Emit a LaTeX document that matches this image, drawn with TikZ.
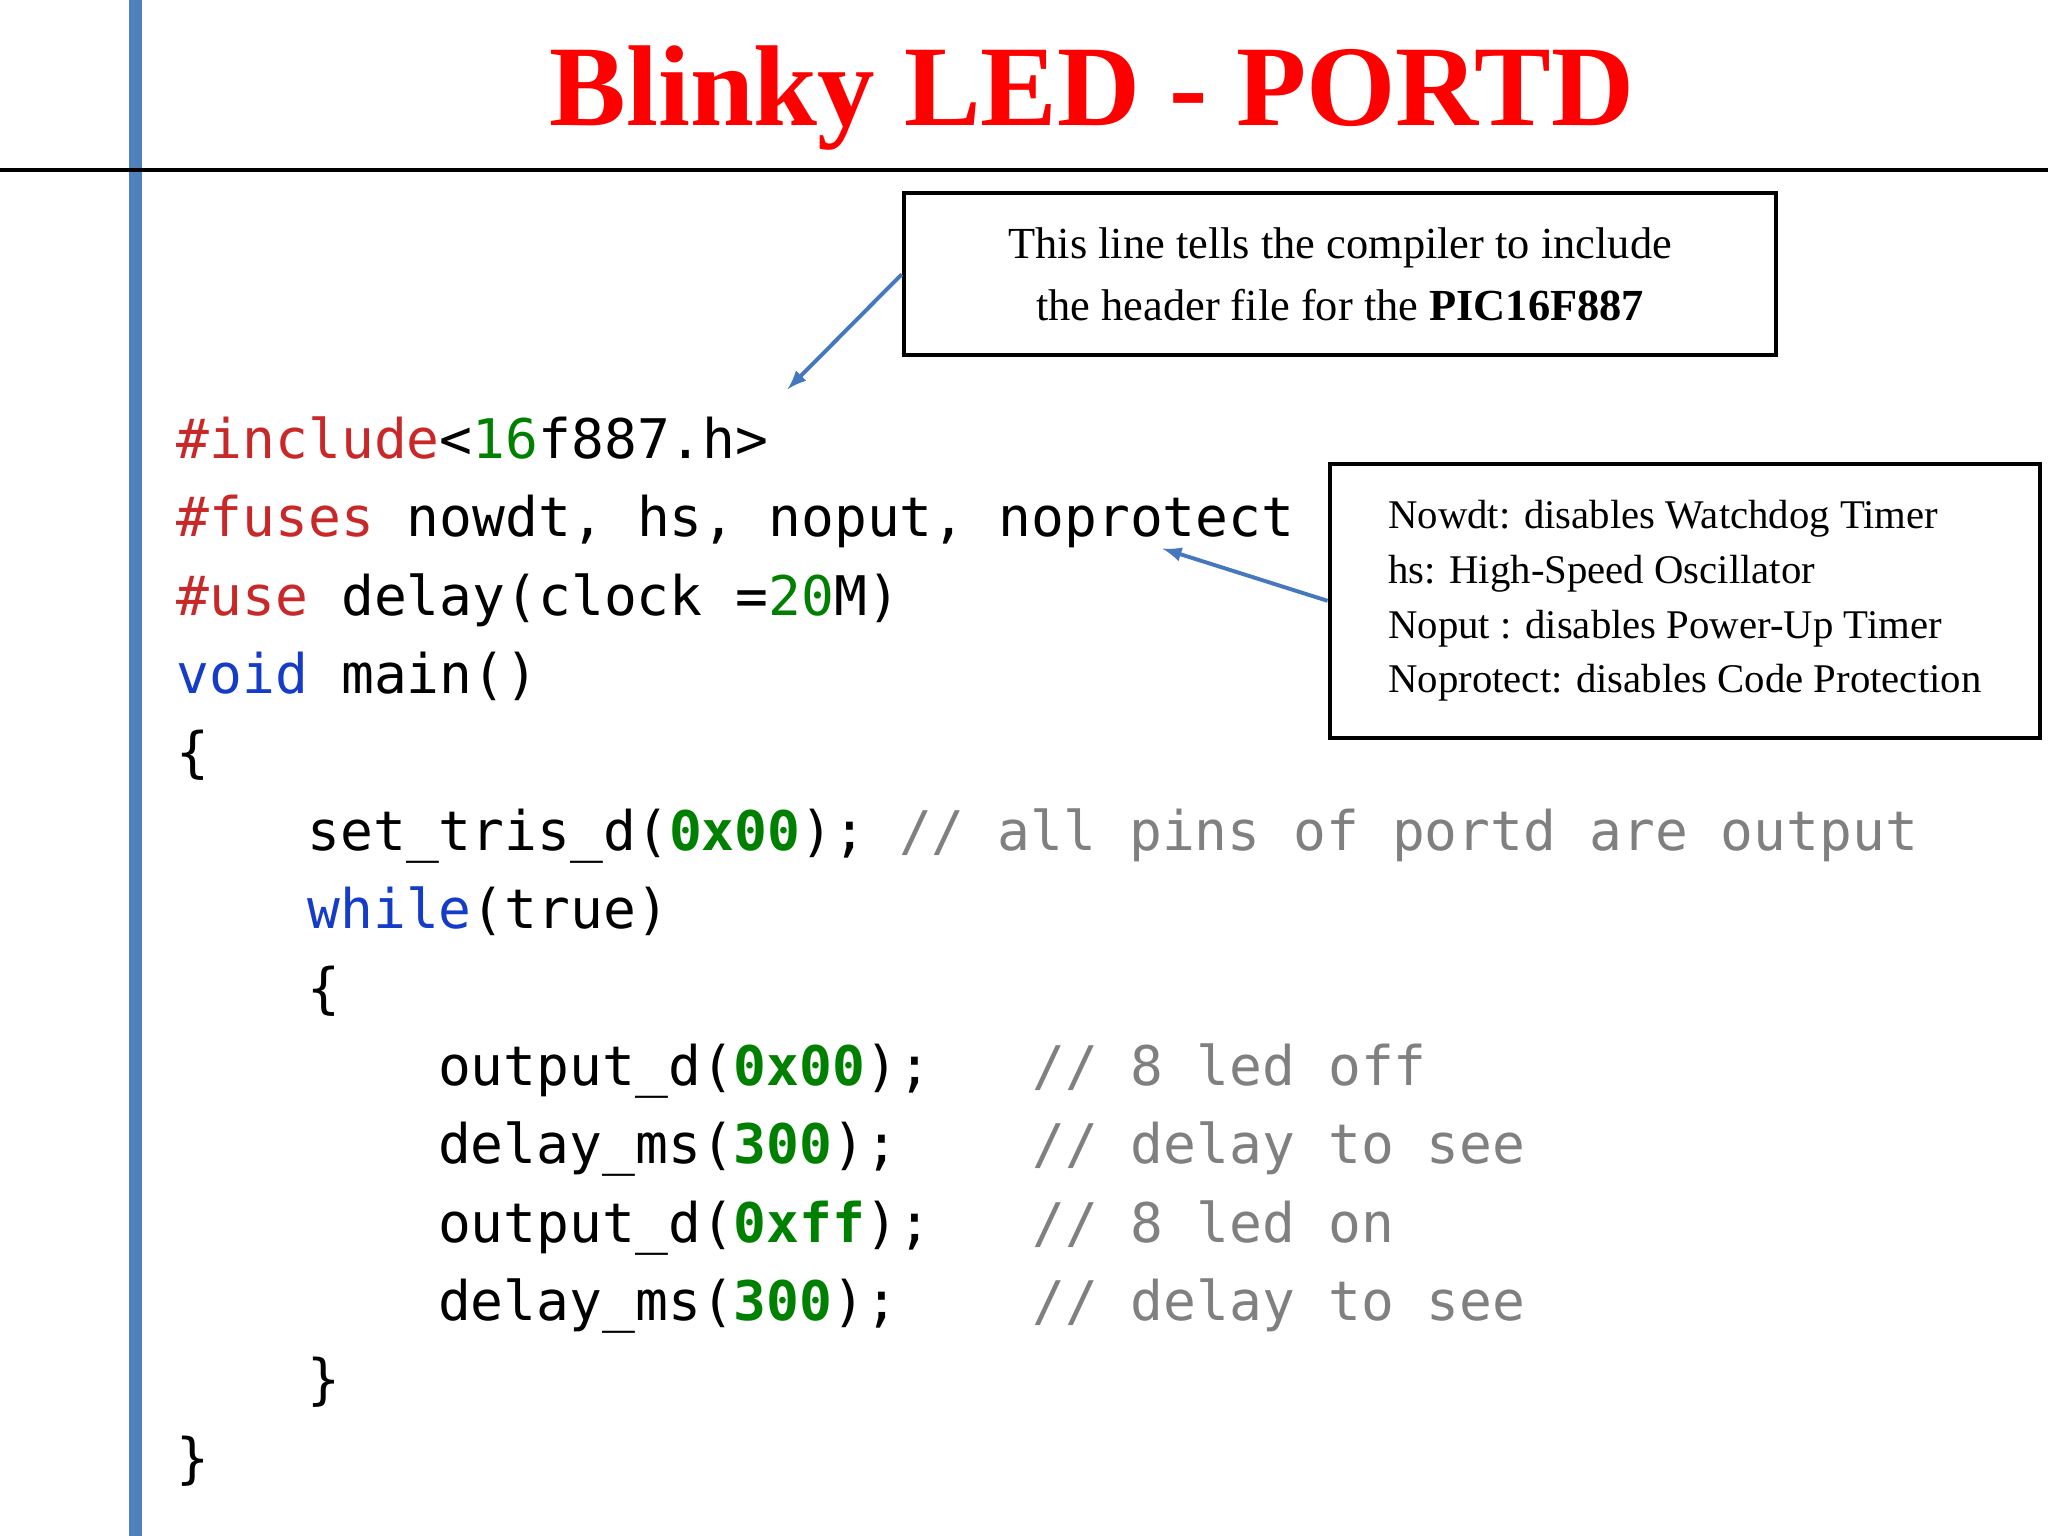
\documentclass[tikz,border=0pt]{standalone}
\usepackage{fontspec}
\setmainfont{Liberation Serif}
\newfontfamily\codefont{DejaVu Sans Mono}
\definecolor{kred}{RGB}{200,40,40}
\definecolor{kgreen}{RGB}{0,128,0}
\definecolor{kblue}{RGB}{20,60,200}
\definecolor{kgray}{RGB}{128,128,128}
\definecolor{bar}{RGB}{79,129,189}
\definecolor{arr}{RGB}{70,120,190}
\begin{document}
\begin{tikzpicture}[x=0.5pt,y=-0.5pt,
  code/.style={anchor=base west,inner sep=0pt,font=\codefont\fontsize{20.9pt}{24pt}\selectfont},
  note/.style={draw,line width=1.6pt,inner sep=0pt},
  arrline/.style={draw=arr,line width=1.5pt,-latex}]
\useasboundingbox (0,0) rectangle (1568,1176);
\fill[bar] (99,0) rectangle (109,1176);
\draw[line width=1.6pt] (0,130) -- (1568,130);
\node[inner sep=0pt,text=red,font=\bfseries\fontsize{44pt}{50pt}\selectfont] (title) at (836,75) {Blinky LED - PORTD};
% box 1
\node[note,minimum width=334pt,minimum height=62pt,align=center,font=\fontsize{17pt}{24pt}\selectfont] (b1) at (1026,210)
 {This line tells the compiler to include\\the header file for the \textbf{PIC16F887}};
\node[note,minimum width=272pt,minimum height=105pt,align=left,font=\fontsize{15.6pt}{21pt}\selectfont] (b2) at (1290,460)
 {Nowdt: disables Watchdog Timer\\hs: High-Speed Oscillator\\Noput : disables Power-Up Timer\\Noprotect: disables Code Protection};
\coordinate (t1) at (603,298);
\coordinate (t2) at (890,420);
\draw[arrline] (b1.west) -- (t1);
\draw[arrline] (b2.west) -- (t2);
% code
\node[code] (l1) at (135,351) {\textcolor{kred}{\#include}<\textcolor{kgreen}{16}f887.h>};
\node[code] (l2) at (135,411) {\textcolor{kred}{\#fuses} nowdt, hs, noput, noprotect};
\node[code] (l3) at (135,471) {\textcolor{kred}{\#use} delay(clock =\textcolor{kgreen}{20}M)};
\node[code] (l4) at (135,531) {\textcolor{kblue}{void} main()};
\node[code] (l5) at (135,591) {\{};
\node[code] (l6) at (235,651) {set\_tris\_d(\textcolor{kgreen}{\bfseries 0x00}); \textcolor{kgray}{// all pins of portd are output}};
\node[code] (l7) at (235,711) {\textcolor{kblue}{while}(true)};
\node[code] (l8) at (235,771) {\{};
\node[code] (l9) at (335,831) {output\_d(\textcolor{kgreen}{\bfseries 0x00});};
\node[code] (l10) at (335,891) {delay\_ms(\textcolor{kgreen}{\bfseries 300});};
\node[code] (l11) at (335,951) {output\_d(\textcolor{kgreen}{\bfseries 0xff});};
\node[code] (l12) at (335,1011) {delay\_ms(\textcolor{kgreen}{\bfseries 300});};
\node[code] (c9) at (790,831) {\textcolor{kgray}{// 8 led off}};
\node[code] (c10) at (790,891) {\textcolor{kgray}{// delay to see}};
\node[code] (c11) at (790,951) {\textcolor{kgray}{// 8 led on}};
\node[code] (c12) at (790,1011) {\textcolor{kgray}{// delay to see}};
\node[code] (l13) at (235,1071) {\}};
\node[code] (l14) at (135,1131) {\}};
\end{tikzpicture}
\end{document}
